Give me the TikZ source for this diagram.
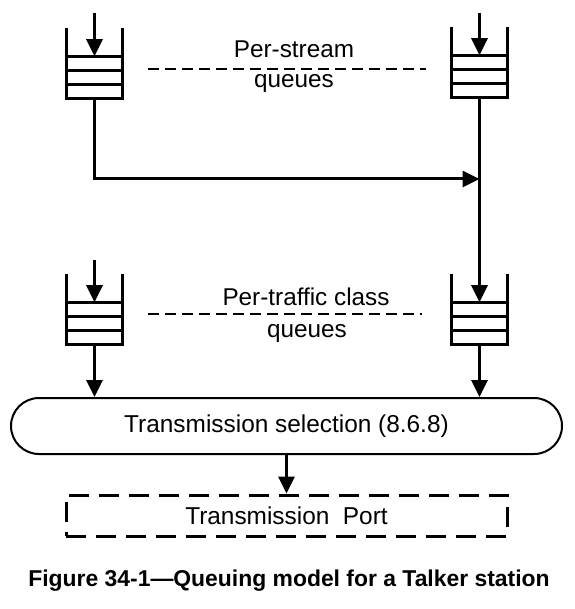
\documentclass[tikz,border=0pt]{standalone}
\usepackage{fontspec}
\setmainfont{Liberation Sans}
\usetikzlibrary{arrows.meta,calc}
\tikzset{
  qline/.style={line width=3pt, line join=miter},
  conn/.style={line width=3pt, -{Triangle[length=17pt,width=16pt]}},
  queue/.style={minimum width=55pt, minimum height=70pt, inner sep=0pt, draw=none},
  sep/.style={line width=1.5pt, dash pattern=on 11pt off 6pt},
  lbl/.style={font=\fontsize{24.3}{28}\selectfont, inner sep=0pt, anchor=base},
}
\newcommand{\qwalls}[1]{%
  \draw[qline] (#1.north west) -- (#1.south west) -- (#1.south east) -- (#1.north east);
  \foreach \h in {14,28,42} {\draw[qline] ([yshift=\h pt]#1.south west) -- ([yshift=\h pt]#1.south east);}
}
\begin{document}
\begin{tikzpicture}[x=1pt,y=-1pt]
\useasboundingbox (0,0) rectangle (574,609);
% queues
\node[queue] (q1) at (94.5,63) {};
\node[queue] (q2) at (479.5,62) {};
\node[queue] (q3) at (94.5,309) {};
\node[queue] (q4) at (479.5,309) {};
\qwalls{q1}\qwalls{q2}\qwalls{q3}\qwalls{q4}
% inputs
\coordinate (in1) at (94.5,13);
\coordinate (in2) at (479.5,13);
\coordinate (in3) at (94.5,260);
\draw[conn] (in1) -- ([yshift=42pt]q1.south);
\draw[conn] (in2) -- ([yshift=42pt]q2.south);
\draw[conn] (in3) -- ([yshift=42pt]q3.south);
% junction
\coordinate (j) at (479.5,179);
\draw[conn] (q1.south) |- (j);
\draw[conn] (q2.south) -- ([yshift=42pt]q4.south);
% labels
\node[lbl] (l1) at (294,58) {Per-stream};
\node[lbl] (l2) at (294,88) {queues};
\coordinate (d1a) at (148,69);
\coordinate (d1b) at (426,69);
\draw[sep] (d1a) -- (d1b);
\node[lbl] (l3) at (306,305) {Per-traffic class};
\node[lbl] (l4) at (307,337) {queues};
\coordinate (d2a) at (148,314);
\coordinate (d2b) at (422,314);
\draw[sep] (d2a) -- (d2b);
% transmission selection
\node[draw, line width=2pt, rounded corners=28pt, minimum width=551pt, minimum height=56pt, inner sep=0pt, font=\fontsize{24.4}{28}\selectfont] (sel) at (286.5,426) {Transmission selection (8.6.8)};
\draw[conn] (q3.south) -- (q3.south |- sel.north);
\draw[conn] (q4.south) -- (q4.south |- sel.north);
% port
\node[draw, line width=3pt, dash pattern=on 20pt off 10pt, minimum width=441pt, minimum height=41pt, inner sep=0pt, font=\fontsize{24.4}{28}\selectfont] (port) at (286.5,515.5) {Transmission~~Port};
\draw[conn] (sel.south) -- (port.north);
% caption
\node[font=\bfseries\fontsize{22.9}{26}\selectfont, inner sep=0pt] (cap) at (289,581) {Figure 34-1---Queuing model for a Talker station};
\end{tikzpicture}
\end{document}
